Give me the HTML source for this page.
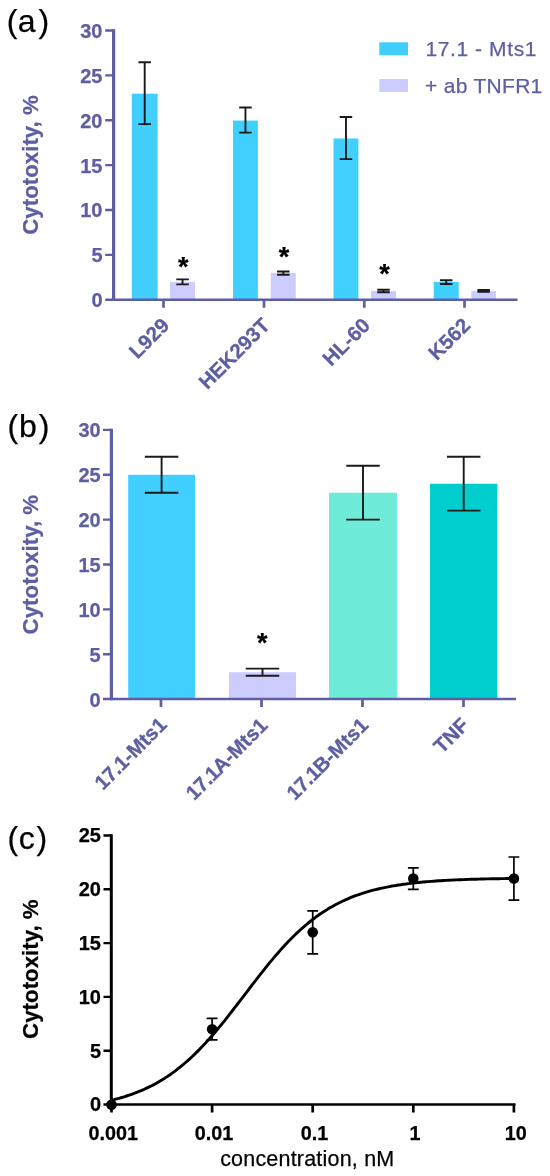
<!DOCTYPE html>
<html lang="en"><head><meta charset="utf-8"><title>Cytotoxity figure</title>
<style>html,body{margin:0;padding:0;background:#fff}svg{display:block}text{font-family:"Liberation Sans",Arial,Helvetica,sans-serif;stroke-width:0.25px}.b{font-weight:bold}.n{stroke-width:0.3px}</style></head><body>
<svg width="550" height="1176" viewBox="0 0 550 1176">
<rect width="550" height="1176" fill="#fff"/>
<text x="6.8" y="32" dx="0 0.3 3" font-size="32" fill="#000" stroke="#000">(a)</text>
<rect x="131.80" y="93.67" width="25.80" height="206.13" fill="#40cfff"/>
<rect x="170.00" y="281.88" width="25.10" height="17.92" fill="#ccccff"/>
<path d="M144.70 62.31V124.14M138.45 62.31H150.95M138.45 124.14H150.95" stroke="#1a1a1a" stroke-width="1.9" fill="none"/>
<path d="M182.55 279.37V284.39M176.30 279.37H188.80M176.30 284.39H188.80" stroke="#1a1a1a" stroke-width="1.9" fill="none"/>
<rect x="233.00" y="120.56" width="24.90" height="179.24" fill="#40cfff"/>
<rect x="270.80" y="272.91" width="25.00" height="26.89" fill="#ccccff"/>
<path d="M245.45 107.57V132.66M239.20 107.57H251.70M239.20 132.66H251.70" stroke="#1a1a1a" stroke-width="1.9" fill="none"/>
<path d="M283.30 271.57V274.71M277.05 271.57H289.55M277.05 274.71H289.55" stroke="#1a1a1a" stroke-width="1.9" fill="none"/>
<rect x="333.50" y="138.48" width="24.90" height="161.32" fill="#40cfff"/>
<rect x="371.00" y="290.84" width="25.00" height="8.96" fill="#ccccff"/>
<path d="M345.95 116.98V159.10M339.70 116.98H352.20M339.70 159.10H352.20" stroke="#1a1a1a" stroke-width="1.9" fill="none"/>
<path d="M383.50 289.76V292.27M377.25 289.76H389.75M377.25 292.27H389.75" stroke="#1a1a1a" stroke-width="1.9" fill="none"/>
<rect x="433.70" y="281.88" width="25.00" height="17.92" fill="#40cfff"/>
<rect x="471.30" y="290.84" width="24.70" height="8.96" fill="#ccccff"/>
<path d="M446.20 280.26V283.94M439.95 280.26H452.45M439.95 283.94H452.45" stroke="#1a1a1a" stroke-width="1.9" fill="none"/>
<path d="M483.65 289.94V291.73M477.40 289.94H489.90M477.40 291.73H489.90" stroke="#1a1a1a" stroke-width="1.9" fill="none"/>
<path d="M113.60 29.30V301.05" stroke="#5e5ea2" stroke-width="3.2" fill="none"/>
<path d="M105.20 299.80H517.5" stroke="#5e5ea2" stroke-width="2.5" fill="none"/>
<path d="M105.20 254.92H113.60M105.20 210.03H113.60M105.20 165.15H113.60M105.20 120.27H113.60M105.20 75.38H113.60M105.20 30.50H113.60" stroke="#5e5ea2" stroke-width="2.4" fill="none"/>
<path d="M163.50 299.80V307.80M264.00 299.80V307.80M364.30 299.80V307.80M464.50 299.80V307.80" stroke="#5e5ea2" stroke-width="2.7" fill="none"/>
<text class="b" x="102.5" y="307.20" font-size="20" fill="#5e5ea2" text-anchor="end" stroke="#5e5ea2">0</text>
<text class="b" x="102.5" y="262.32" font-size="20" fill="#5e5ea2" text-anchor="end" stroke="#5e5ea2">5</text>
<text class="b" x="102.5" y="217.43" font-size="20" fill="#5e5ea2" text-anchor="end" stroke="#5e5ea2">10</text>
<text class="b" x="102.5" y="172.55" font-size="20" fill="#5e5ea2" text-anchor="end" stroke="#5e5ea2">15</text>
<text class="b" x="102.5" y="127.67" font-size="20" fill="#5e5ea2" text-anchor="end" stroke="#5e5ea2">20</text>
<text class="b" x="102.5" y="82.78" font-size="20" fill="#5e5ea2" text-anchor="end" stroke="#5e5ea2">25</text>
<text class="b" x="102.5" y="37.90" font-size="20" fill="#5e5ea2" text-anchor="end" stroke="#5e5ea2">30</text>
<text class="b n" font-size="20.5" fill="#5e5ea2" text-anchor="end" transform="translate(170.50 326.70) rotate(-45)" stroke="#5e5ea2">L929</text>
<text class="b n" font-size="20.5" fill="#5e5ea2" text-anchor="end" transform="translate(271.00 326.70) rotate(-45)" stroke="#5e5ea2">HEK293T</text>
<text class="b n" font-size="20.5" fill="#5e5ea2" text-anchor="end" transform="translate(371.30 326.70) rotate(-45)" stroke="#5e5ea2">HL-60</text>
<text class="b n" font-size="20.5" fill="#5e5ea2" text-anchor="end" transform="translate(471.50 326.70) rotate(-45)" stroke="#5e5ea2">K562</text>
<text class="b" font-size="22.3" fill="#5e5ea2" text-anchor="middle" transform="translate(37.5 165) rotate(-90)" stroke="#5e5ea2">Cytotoxity, %</text>
<text class="b" x="183.3" y="275.7" font-size="27" fill="#000" text-anchor="middle" stroke="#000">*</text>
<text class="b" x="283.9" y="266.4" font-size="27" fill="#000" text-anchor="middle" stroke="#000">*</text>
<text class="b" x="384.6" y="282.8" font-size="27" fill="#000" text-anchor="middle" stroke="#000">*</text>
<rect x="379.3" y="42.3" width="28.7" height="13" fill="#40cfff"/>
<rect x="379.3" y="79" width="28.7" height="13" fill="#ccccff"/>
<text x="425.4" y="55.9" font-size="21" letter-spacing="0.6" fill="#5e5ea2" stroke="#5e5ea2">17.1 - Mts1</text>
<text x="425" y="93.1" font-size="21" letter-spacing="0.3" fill="#5e5ea2" stroke="#5e5ea2">+ ab TNFR1</text>
<text x="7.5" y="436.5" dx="0 0.9 2.0" font-size="32" fill="#000" stroke="#000">(b)</text>
<rect x="128.20" y="474.77" width="66.80" height="224.33" fill="#40cfff"/>
<path d="M161.60 456.82V492.71M144.85 456.82H178.35M144.85 492.71H178.35" stroke="#1a1a1a" stroke-width="1.9" fill="none"/>
<rect x="229.00" y="672.18" width="67.00" height="26.92" fill="#ccccff"/>
<path d="M262.50 668.59V675.77M245.75 668.59H279.25M245.75 675.77H279.25" stroke="#1a1a1a" stroke-width="1.9" fill="none"/>
<rect x="329.00" y="492.71" width="68.00" height="206.39" fill="#6eebd9"/>
<path d="M363.00 465.79V519.63M346.25 465.79H379.75M346.25 519.63H379.75" stroke="#1a1a1a" stroke-width="1.9" fill="none"/>
<rect x="430.00" y="483.74" width="67.40" height="215.36" fill="#00cdcd"/>
<path d="M463.70 456.82V510.66M446.95 456.82H480.45M446.95 510.66H480.45" stroke="#1a1a1a" stroke-width="1.9" fill="none"/>
<path d="M111.40 428.70V700.35" stroke="#5e5ea2" stroke-width="3.2" fill="none"/>
<path d="M103.00 699.10H516" stroke="#5e5ea2" stroke-width="2.5" fill="none"/>
<path d="M103.00 654.23H111.40M103.00 609.37H111.40M103.00 564.50H111.40M103.00 519.63H111.40M103.00 474.77H111.40M103.00 429.90H111.40" stroke="#5e5ea2" stroke-width="2.4" fill="none"/>
<path d="M161.00 699.10V707.10M261.50 699.10V707.10M362.50 699.10V707.10M463.50 699.10V707.10" stroke="#5e5ea2" stroke-width="2.7" fill="none"/>
<text class="b" x="100.7" y="706.50" font-size="20" fill="#5e5ea2" text-anchor="end" stroke="#5e5ea2">0</text>
<text class="b" x="100.7" y="661.63" font-size="20" fill="#5e5ea2" text-anchor="end" stroke="#5e5ea2">5</text>
<text class="b" x="100.7" y="616.77" font-size="20" fill="#5e5ea2" text-anchor="end" stroke="#5e5ea2">10</text>
<text class="b" x="100.7" y="571.90" font-size="20" fill="#5e5ea2" text-anchor="end" stroke="#5e5ea2">15</text>
<text class="b" x="100.7" y="527.03" font-size="20" fill="#5e5ea2" text-anchor="end" stroke="#5e5ea2">20</text>
<text class="b" x="100.7" y="482.17" font-size="20" fill="#5e5ea2" text-anchor="end" stroke="#5e5ea2">25</text>
<text class="b" x="100.7" y="437.30" font-size="20" fill="#5e5ea2" text-anchor="end" stroke="#5e5ea2">30</text>
<text class="b n" font-size="20.5" dx="0 -0.4 -0.4 -0.4 -0.4" fill="#5e5ea2" text-anchor="end" transform="translate(168.00 726.00) rotate(-45)" stroke="#5e5ea2">17.1-Mts1</text>
<text class="b n" font-size="20.5" dx="0 -0.5 -0.5 -0.5 -0.8 -0.5" fill="#5e5ea2" text-anchor="end" transform="translate(268.80 726.70) rotate(-45)" stroke="#5e5ea2">17.1A-Mts1</text>
<text class="b n" font-size="20.5" dx="0 -0.5 -0.5 -0.5 -0.7 -0.5" fill="#5e5ea2" text-anchor="end" transform="translate(369.60 726.50) rotate(-45)" stroke="#5e5ea2">17.1B-Mts1</text>
<text class="b n" font-size="20.5" dx="0" fill="#5e5ea2" text-anchor="end" transform="translate(470.10 726.40) rotate(-45)" stroke="#5e5ea2">TNF</text>
<text class="b" font-size="22.3" fill="#5e5ea2" text-anchor="middle" transform="translate(37.5 564.6) rotate(-90)" stroke="#5e5ea2">Cytotoxity, %</text>
<text class="b" x="262.2" y="652.3" font-size="27" fill="#000" text-anchor="middle" stroke="#000">*</text>
<text x="7.5" y="848.7" dx="0 0.5 1.9" font-size="32" fill="#000" stroke="#000">(c)</text>
<path d="M111.5 1100.2 L114.0 1099.6 L116.5 1098.9 L119.0 1098.3 L121.6 1097.5 L124.1 1096.8 L126.6 1096.0 L129.1 1095.2 L131.6 1094.3 L134.1 1093.4 L136.7 1092.4 L139.2 1091.4 L141.7 1090.4 L144.2 1089.3 L146.7 1088.1 L149.2 1086.9 L151.7 1085.7 L154.3 1084.4 L156.8 1083.0 L159.3 1081.5 L161.8 1080.0 L164.3 1078.5 L166.8 1076.9 L169.3 1075.2 L171.9 1073.4 L174.4 1071.6 L176.9 1069.7 L179.4 1067.7 L181.9 1065.7 L184.4 1063.5 L186.9 1061.4 L189.5 1059.1 L192.0 1056.8 L194.5 1054.4 L197.0 1051.9 L199.5 1049.4 L202.0 1046.8 L204.6 1044.1 L207.1 1041.3 L209.6 1038.5 L212.1 1035.7 L214.6 1032.8 L217.1 1029.8 L219.6 1026.7 L222.2 1023.7 L224.7 1020.6 L227.2 1017.4 L229.7 1014.2 L232.2 1011.0 L234.7 1007.7 L237.2 1004.5 L239.8 1001.2 L242.3 997.9 L244.8 994.6 L247.3 991.3 L249.8 988.0 L252.3 984.7 L254.9 981.4 L257.4 978.2 L259.9 974.9 L262.4 971.8 L264.9 968.6 L267.4 965.5 L269.9 962.4 L272.5 959.4 L275.0 956.4 L277.5 953.5 L280.0 950.6 L282.5 947.8 L285.0 945.1 L287.5 942.4 L290.1 939.8 L292.6 937.2 L295.1 934.8 L297.6 932.4 L300.1 930.0 L302.6 927.8 L305.2 925.6 L307.7 923.5 L310.2 921.5 L312.7 919.5 L315.2 917.6 L317.7 915.8 L320.2 914.0 L322.8 912.3 L325.3 910.7 L327.8 909.1 L330.3 907.6 L332.8 906.2 L335.3 904.8 L337.9 903.5 L340.4 902.2 L342.9 901.0 L345.4 899.9 L347.9 898.8 L350.4 897.7 L352.9 896.7 L355.5 895.7 L358.0 894.8 L360.5 894.0 L363.0 893.1 L365.5 892.4 L368.0 891.6 L370.5 890.9 L373.1 890.2 L375.6 889.6 L378.1 889.0 L380.6 888.4 L383.1 887.8 L385.6 887.3 L388.1 886.8 L390.7 886.3 L393.2 885.9 L395.7 885.5 L398.2 885.0 L400.7 884.7 L403.2 884.3 L405.8 884.0 L408.3 883.6 L410.8 883.3 L413.3 883.0 L415.8 882.8 L418.3 882.5 L420.8 882.2 L423.4 882.0 L425.9 881.8 L428.4 881.6 L430.9 881.4 L433.4 881.2 L435.9 881.0 L438.4 880.8 L441.0 880.7 L443.5 880.5 L446.0 880.4 L448.5 880.2 L451.0 880.1 L453.5 880.0 L456.1 879.9 L458.6 879.8 L461.1 879.7 L463.6 879.6 L466.1 879.5 L468.6 879.4 L471.1 879.3 L473.7 879.2 L476.2 879.2 L478.7 879.1 L481.2 879.0 L483.7 879.0 L486.2 878.9 L488.8 878.9 L491.3 878.8 L493.8 878.7 L496.3 878.7 L498.8 878.7 L501.3 878.6 L503.8 878.6 L506.4 878.5 L508.9 878.5 L511.4 878.5 L513.9 878.4" stroke="#000" stroke-width="2.9" fill="none" stroke-linejoin="round"/>
<path d="M111.30 834.30V1105.75" stroke="#000" stroke-width="3.0" fill="none"/>
<path d="M103.50 1104.50H515.5" stroke="#000" stroke-width="2.5" fill="none"/>
<path d="M103.50 1050.70H111.30M103.50 996.90H111.30M103.50 943.10H111.30M103.50 889.30H111.30M103.50 835.50H111.30" stroke="#000" stroke-width="2.4" fill="none"/>
<path d="M111.50 1104.50V1112.50M212.10 1104.50V1112.50M312.70 1104.50V1112.50M413.30 1104.50V1112.50M513.90 1104.50V1112.50" stroke="#000" stroke-width="2.7" fill="none"/>
<text class="b" x="101" y="1111.40" font-size="20" fill="#000" text-anchor="end" stroke="#000">0</text>
<text class="b" x="101" y="1057.60" font-size="20" fill="#000" text-anchor="end" stroke="#000">5</text>
<text class="b" x="101" y="1003.80" font-size="20" fill="#000" text-anchor="end" stroke="#000">10</text>
<text class="b" x="101" y="950.00" font-size="20" fill="#000" text-anchor="end" stroke="#000">15</text>
<text class="b" x="101" y="896.20" font-size="20" fill="#000" text-anchor="end" stroke="#000">20</text>
<text class="b" x="101" y="842.40" font-size="20" fill="#000" text-anchor="end" stroke="#000">25</text>
<text class="b" x="113.30" y="1140" font-size="19.8" fill="#000" text-anchor="middle" stroke="#000">0.001</text>
<text class="b" x="213.90" y="1140" font-size="19.8" fill="#000" text-anchor="middle" stroke="#000">0.01</text>
<text class="b" x="314.50" y="1140" font-size="19.8" fill="#000" text-anchor="middle" stroke="#000">0.1</text>
<text class="b" x="415.10" y="1140" font-size="19.8" fill="#000" text-anchor="middle" stroke="#000">1</text>
<text class="b" x="515.70" y="1140" font-size="19.8" fill="#000" text-anchor="middle" stroke="#000">10</text>
<circle cx="111.50" cy="1104.72" r="5.3" fill="#000"/>
<path d="M212.10 1018.42V1039.94M206.70 1018.42H217.50M206.70 1039.94H217.50" stroke="#000" stroke-width="1.7" fill="none"/>
<circle cx="212.10" cy="1029.18" r="5.3" fill="#000"/>
<path d="M312.70 910.82V953.86M307.30 910.82H318.10M307.30 953.86H318.10" stroke="#000" stroke-width="1.7" fill="none"/>
<circle cx="312.70" cy="932.34" r="5.3" fill="#000"/>
<path d="M413.30 867.78V889.30M407.90 867.78H418.70M407.90 889.30H418.70" stroke="#000" stroke-width="1.7" fill="none"/>
<circle cx="413.30" cy="878.54" r="5.3" fill="#000"/>
<path d="M513.90 857.02V900.06M508.50 857.02H519.30M508.50 900.06H519.30" stroke="#000" stroke-width="1.7" fill="none"/>
<circle cx="513.90" cy="878.54" r="5.3" fill="#000"/>
<text class="b" font-size="22.3" fill="#000" text-anchor="middle" transform="translate(37.5 969.1) rotate(-90)" stroke="#000">Cytotoxity, %</text>
<text x="307.3" y="1166" font-size="21.5" letter-spacing="0.2" fill="#000" text-anchor="middle" stroke="#000">concentration, nM</text>
</svg></body></html>
